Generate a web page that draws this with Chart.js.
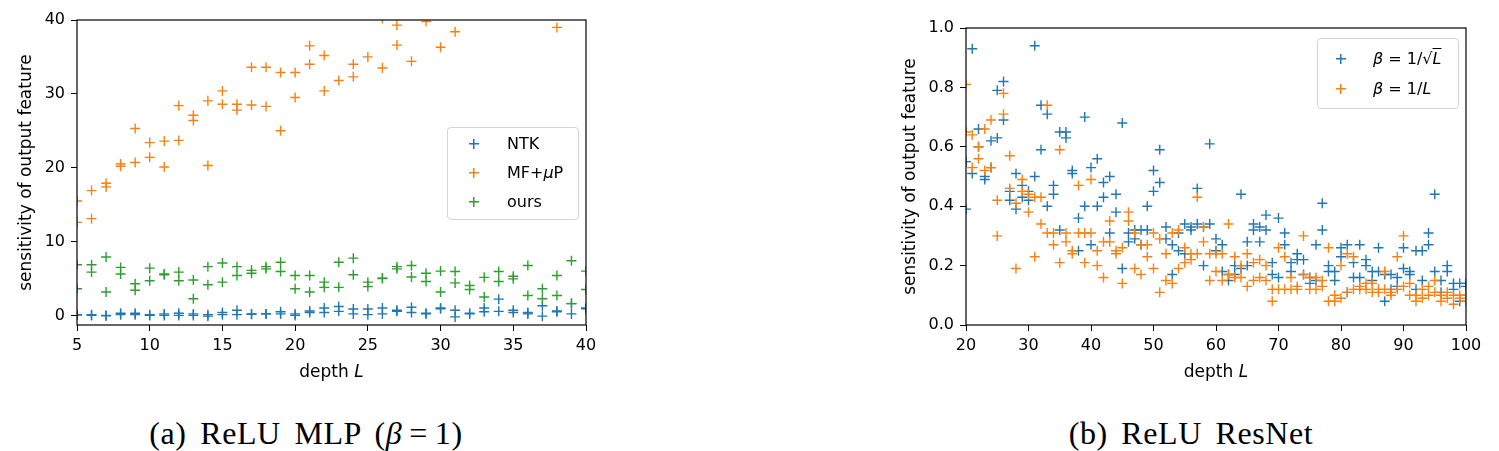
<!DOCTYPE html>
<html>
<head>
<meta charset="utf-8">
<script src="https://cdn.jsdelivr.net/npm/chart.js@4.4.1/dist/chart.umd.min.js"></script>
<style>
  body { margin: 0; background: #fff; width: 1499px; height: 451px; position: relative; overflow: hidden; font-family: 'DejaVu Sans', sans-serif; }
  canvas { position: absolute; top: 0; }
  .legend { position: absolute; background: rgba(255,255,255,0.8); border: 1px solid #d3d3d3; border-radius: 4px; font-size: 16px; color: #000; }
  .legend .row { position: absolute; white-space: nowrap; line-height: 20px; }
  .mk { position: absolute; width: 10px; height: 10px; }
  .caption { position: absolute; top: 414px; font-family: 'Liberation Serif', 'DejaVu Serif', serif; font-size: 32px; line-height: 38px; letter-spacing: 0.6px; word-spacing: 5px; white-space: nowrap; transform: translateX(-50%); color: #000; }
</style>
</head>
<body>
<canvas id="mlpChart" width="610" height="400" style="left:0px"></canvas>
<canvas id="resnetChart" width="610" height="400" style="left:880px"></canvas>

<div class="legend" id="legend-mlp" style="left:447px; top:127px; width:130px; height:91px;"></div>
<div class="legend" id="legend-resnet" style="left:1317px; top:38px; width:140px; height:69px;"></div>

<div class="caption" style="left:306px;">(a) ReLU MLP (<i>β</i>&thinsp;=&thinsp;1)</div>
<div class="caption" style="left:1191px;">(b) ReLU ResNet</div>

<script>
// ---- (a) ReLU MLP, depth 5..40, two runs per depth ----
const mlpDepths = [5,6,7,8,9,10,11,12,13,14,15,16,17,18,19,20,21,22,23,24,25,26,27,28,29,30,31,32,33,34,35,36,37,38,39,40];
const ntkA  = [0.1,0.1,0.0,0.3,0.3,0.1,0.2,0.3,0.2,0.1,0.4,0.7,0.2,0.2,0.5,0.2,0.6,1.0,1.2,0.87,0.87,1.0,0.7,1.1,0.3,1.0,0.7,0.3,1.0,2.2,0.7,0.4,1.3,0.6,1.6,1.0];
const ntkB  = [0.05,0.0,-0.05,0.1,0.1,0.0,0.0,0.0,0.0,-0.1,0.1,0.1,0.15,0.2,0.2,0.0,0.4,0.4,0.55,0.2,0.1,0.2,0.55,0.4,0.2,0.9,-0.2,0.2,0.5,0.55,0.4,0.2,-0.1,0.5,0.2,0.9];
const mfA   = [15.5,16.9,17.9,20.5,25.3,23.4,23.6,28.4,27.1,29.05,30.4,28.6,33.6,33.6,32.9,32.9,36.5,35.2,31.8,34.0,35.0,33.5,39.3,34.4,39.8,36.3,38.4,null,null,null,null,null,null,39.0,null,null];
const mfB   = [12.6,13.1,17.4,20.2,20.7,21.4,20.1,23.7,26.4,20.3,28.6,27.8,28.5,28.3,25.0,29.5,34.0,30.4,null,32.3,null,40.2,36.6,null,null,null,null,null,null,null,null,null,null,null,null,null];
const oursA = [6.85,6.85,7.9,6.5,4.28,6.4,5.6,5.86,4.8,6.6,7.1,6.6,6.1,6.6,7.2,5.4,5.4,4.5,7.2,7.75,4.5,5.05,6.6,6.75,5.7,6.0,5.95,4.05,5.15,5.95,5.3,6.75,3.6,5.4,7.4,6.0];
const oursB = [3.6,5.86,3.16,5.6,3.4,4.7,5.5,4.7,2.26,4.15,4.5,5.4,5.7,6.3,5.95,3.6,3.16,3.8,3.8,5.5,3.9,5.0,6.3,5.2,4.6,3.16,4.4,3.5,2.5,4.6,4.95,2.7,2.26,2.7,1.6,3.5];
const mlpXTicks = [5,10,15,20,25,30,35,40];
const mlpYTicks = [0,10,20,30,40];

// ---- (b) ReLU ResNet, depth 20..100, two runs per depth ----
const resDepths = [];
for (let d = 20; d <= 100; d++) resDepths.push(d);
const sqrtA = [0.39,0.93,0.66,0.49,0.62,0.79,0.82,0.45,0.51,0.43,0.45,0.94,0.74,0.71,0.47,0.65,0.65,0.52,0.36,0.70,
               0.53,0.56,0.48,0.50,0.44,0.68,0.31,0.32,0.32,0.40,0.52,0.59,0.33,0.27,0.31,0.34,0.32,0.46,0.33,0.61,
               0.29,0.27,0.17,0.20,0.44,0.28,0.34,0.33,0.37,0.21,0.36,0.31,0.18,0.24,0.22,0.16,0.27,0.41,0.20,0.15,
               0.26,0.27,0.16,0.27,0.22,0.18,0.26,0.17,0.17,0.16,0.26,0.18,0.25,0.25,0.31,0.44,0.11,0.20,0.14,0.14,0.14];
const sqrtB = [0.55,0.51,0.60,0.50,0.53,0.63,0.69,0.42,0.39,0.47,0.42,0.50,0.59,0.40,0.44,0.32,0.63,0.51,0.25,0.40,
               0.27,0.40,0.43,0.31,0.38,0.19,0.28,0.29,0.27,0.32,0.45,0.48,0.29,0.17,0.25,0.24,0.33,0.34,0.20,0.34,
               0.25,0.18,0.15,0.17,0.19,0.20,0.32,0.28,0.32,0.17,0.16,0.27,0.21,0.22,0.17,0.14,0.15,0.32,0.18,0.18,
               0.23,0.11,0.21,0.16,0.20,0.15,0.18,0.08,0.12,0.13,0.19,0.17,0.12,0.15,0.27,0.18,0.15,0.18,0.12,0.08,0.13];
const invA  = [0.81,0.64,0.60,0.66,0.69,0.42,0.78,0.57,0.41,0.49,0.44,0.43,0.43,0.74,0.31,0.59,0.31,0.24,0.47,0.31,
               0.49,0.25,0.28,0.35,0.24,0.26,0.38,0.31,0.27,0.27,0.31,0.29,0.24,0.31,0.32,0.21,0.24,0.43,0.33,0.24,
               0.24,0.24,0.34,0.23,0.16,0.24,0.21,0.22,0.15,0.12,0.26,0.23,0.12,0.12,0.30,0.16,0.16,0.15,0.26,0.08,
               0.09,0.11,0.23,0.12,0.14,0.14,0.11,0.18,0.11,0.23,0.30,0.14,0.08,0.09,0.13,0.15,0.08,0.11,0.07,0.10,0.08];
const invB  = [0.65,0.53,0.56,0.52,0.53,0.30,0.71,0.46,0.19,0.45,0.38,0.23,0.34,0.31,0.27,0.21,0.28,0.25,0.31,0.21,
               0.31,0.20,0.16,0.28,0.25,0.14,0.35,0.19,0.17,0.23,0.19,0.11,0.15,0.14,0.19,0.26,0.22,0.24,0.28,0.15,
               0.18,0.15,0.17,0.16,0.20,0.13,0.15,0.16,0.20,0.08,0.12,0.12,0.16,0.13,0.17,0.12,0.12,0.13,0.08,0.10,
               0.20,0.24,0.12,0.13,0.12,0.11,0.12,0.12,0.10,0.12,0.13,0.10,0.10,0.12,0.10,0.11,0.10,0.09,0.10,0.09,0.10];
const resXTicks = [20,30,40,50,60,70,80,90,100];
const resYTicks = [0.0,0.2,0.4,0.6,0.8,1.0];

const BLUE = '#1f77b4', ORANGE = '#ff7f0e', GREEN = '#2ca02c';
const FONT = 'DejaVu Sans';
const TICK_SIZE = 16, TITLE_SIZE = 17;

function pairs(xs, a, b) {
  const pts = [];
  xs.forEach((x, i) => {
    if (a[i] !== null) pts.push({ x: x, y: a[i] });
    if (b[i] !== null) pts.push({ x: x, y: b[i] });
  });
  return pts;
}

function crossSet(label, data, color, order) {
  return {
    label: label, data: data, order: order,
    pointStyle: 'cross', pointRadius: 5, pointHoverRadius: 5,
    borderColor: color, backgroundColor: color, borderWidth: 1.4,
    showLine: false, clip: 0
  };
}

// axes box (all four spines like the original)
const frame = {
  id: 'frame',
  afterDatasetsDraw(chart) {
    const { ctx, chartArea: a } = chart;
    ctx.save();
    ctx.strokeStyle = '#000';
    ctx.lineWidth = 1.2;
    ctx.strokeRect(a.left, a.top, a.right - a.left, a.bottom - a.top);
    ctx.restore();
  }
};

// "depth L" with italic L
const depthTitle = {
  id: 'depthTitle',
  afterDraw(chart) {
    const { ctx, chartArea: a } = chart;
    const f1 = TITLE_SIZE + 'px "' + FONT + '"', f2 = 'italic ' + TITLE_SIZE + 'px "' + FONT + '"';
    ctx.save();
    ctx.fillStyle = '#000';
    ctx.textBaseline = 'middle';
    ctx.textAlign = 'left';
    ctx.font = f1; const w1 = ctx.measureText('depth ').width;
    ctx.font = f2; const w2 = ctx.measureText('L').width;
    const x = (a.left + a.right) / 2 - (w1 + w2) / 2, y = a.bottom + 48;
    ctx.font = f1; ctx.fillText('depth ', x, y);
    ctx.font = f2; ctx.fillText('L', x + w1, y);
    ctx.restore();
  }
};

function makeChart(id, datasets, o) {
  return new Chart(document.getElementById(id), {
    type: 'scatter',
    data: { datasets: datasets },
    plugins: [frame, depthTitle],
    options: {
      responsive: false,
      animation: false,
      layout: { padding: o.padding },
      plugins: { legend: { display: false }, tooltip: { enabled: false } },
      scales: {
        x: {
          type: 'linear', min: o.xMin, max: o.xMax,
          afterBuildTicks: s => { s.ticks = o.xTicks.map(v => ({ value: v })); },
          afterFit: s => { s.height = 75; },
          border: { display: false },
          grid: { drawOnChartArea: false, color: '#000', tickLength: 6 },
          ticks: { color: '#000', padding: 5, maxRotation: 0, font: { family: FONT, size: TICK_SIZE },
                   callback: v => o.xFmt(v) }
        },
        y: {
          type: 'linear', min: o.yMin, max: o.yMax,
          afterBuildTicks: s => { s.ticks = o.yTicks.map(v => ({ value: v })); },
          afterFit: s => { s.width = o.yWidth; },
          border: { display: false },
          grid: { drawOnChartArea: false, color: '#000', tickLength: 6 },
          ticks: { color: '#000', padding: 6, font: { family: FONT, size: TICK_SIZE },
                   callback: v => o.yFmt(v) },
          title: { display: true, text: 'sensitivity of output feature', color: '#000',
                   font: { family: FONT, size: TITLE_SIZE }, padding: { top: 4, bottom: 4 } }
        }
      }
    }
  });
}

makeChart('mlpChart', [
  crossSet('NTK', pairs(mlpDepths, ntkA, ntkB), BLUE, 2),
  crossSet('MF+μP', pairs(mlpDepths, mfA, mfB), ORANGE, 1),
  crossSet('ours', pairs(mlpDepths, oursA, oursB), GREEN, 0)
], {
  padding: { left: 12, top: 20, right: 24, bottom: 0 },
  xMin: 5, xMax: 40, yMin: -1.3, yMax: 40, yWidth: 65,
  xTicks: mlpXTicks, yTicks: mlpYTicks,
  xFmt: v => String(v), yFmt: v => String(v)
});

makeChart('resnetChart', [
  crossSet('β = 1/√L', pairs(resDepths, sqrtA, sqrtB), BLUE, 1),
  crossSet('β = 1/L', pairs(resDepths, invA, invB), ORANGE, 0)
], {
  padding: { left: 16, top: 28, right: 24, bottom: 0 },
  xMin: 20, xMax: 100, yMin: 0, yMax: 1, yWidth: 70,
  xTicks: resXTicks, yTicks: resYTicks,
  xFmt: v => String(v), yFmt: v => v.toFixed(1)
});

// legends (html so the math can be set in italics)
function marker(color) {
  return 'background:linear-gradient(' + color + ',' + color + ') center/100% 1.5px no-repeat,' +
         'linear-gradient(' + color + ',' + color + ') center/1.5px 100% no-repeat;';
}
function buildLegend(id, items, mkX, textX) {
  const el = document.getElementById(id);
  el.innerHTML = items.map(it => `
    <span class="mk" style="left:${mkX - 5}px; top:${it.y - 5}px; ${marker(it.color)}"></span>
    <div class="row" style="left:${textX}px; top:${it.y - 10}px;">${it.html}</div>
  `).join('');
}
buildLegend('legend-mlp', [
  { color: BLUE, y: 16, html: 'NTK' },
  { color: ORANGE, y: 45, html: 'MF+<i>μ</i>P' },
  { color: GREEN, y: 74, html: 'ours' }
], 26, 59);
buildLegend('legend-resnet', [
  { color: BLUE, y: 20, html: '<i>β</i> = 1/√<span style="text-decoration:overline"><i>L</i></span>' },
  { color: ORANGE, y: 50, html: '<i>β</i> = 1/<i>L</i>' }
], 23, 55);
</script>
</body>
</html>
